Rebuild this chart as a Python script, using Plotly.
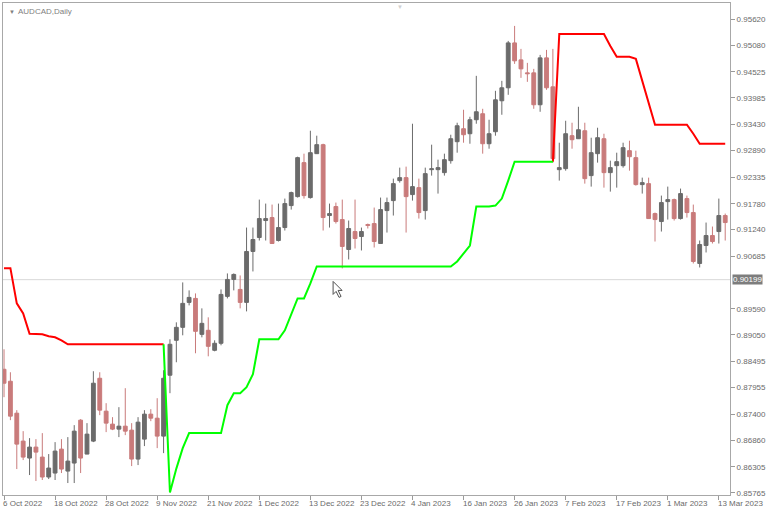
import plotly.graph_objects as go
import pandas as pd

# Trading days (weekdays) from 6 Oct 2022 to 14 Mar 2023
dates = [d.strftime("%Y-%m-%d") for d in pd.bdate_range("2022-10-06", "2023-03-14")]

open_ = [0.88334, 0.88085, 0.87420, 0.86839, 0.86486, 0.86714, 0.86506, 0.86091, 0.86174, 0.86672,
         0.86215, 0.86382, 0.87275, 0.86569, 0.86839, 0.88147, 0.87462, 0.87192, 0.87088, 0.87150,
         0.87067, 0.86465, 0.86880, 0.87400, 0.87316, 0.86943, 0.88210, 0.88937, 0.89207, 0.89726,
         0.89809, 0.89061, 0.89145, 0.88729, 0.88875, 0.89851, 0.90204, 0.89996, 0.89726, 0.90786,
         0.91077, 0.91430, 0.91492, 0.91014, 0.91284, 0.91741, 0.91928, 0.92635, 0.91908, 0.92822,
         0.93009, 0.91534, 0.91721, 0.91450, 0.90827, 0.91201, 0.91097, 0.91347, 0.91367, 0.90952,
         0.91637, 0.91845, 0.92261, 0.92323, 0.91970, 0.92115, 0.91637, 0.92489, 0.92489, 0.92427,
         0.92676, 0.93071, 0.93341, 0.93237, 0.93528, 0.93653, 0.93029, 0.93279, 0.93923, 0.94193,
         0.95127, 0.94774, 0.94504, 0.94504, 0.93840, 0.94816, 0.94213, 0.92489, 0.92510, 0.93196,
         0.93133, 0.93299, 0.92365, 0.92822, 0.93133, 0.92427, 0.92572, 0.92572, 0.92884, 0.92739,
         0.92178, 0.92198, 0.91575, 0.91409, 0.91824, 0.91866, 0.91471, 0.91887, 0.91596, 0.90536,
         0.90910, 0.91118, 0.91201, 0.91534]
high = [0.88750, 0.88272, 0.87483, 0.87046, 0.86901, 0.86880, 0.87005, 0.86569, 0.86818, 0.86880,
        0.86922, 0.87171, 0.87296, 0.87213, 0.88293, 0.88272, 0.87628, 0.87337, 0.87545, 0.87940,
        0.87213, 0.87337, 0.87483, 0.87503, 0.87732, 0.88314, 0.88958, 0.89311, 0.90142, 0.89976,
        0.89913, 0.89602, 0.89415, 0.88937, 0.89996, 0.90329, 0.90329, 0.90287, 0.91284, 0.91284,
        0.91866, 0.91783, 0.91762, 0.91783, 0.91887, 0.92032, 0.92759, 0.92822, 0.93299, 0.93196,
        0.93029, 0.91783, 0.91804, 0.91866, 0.91430, 0.91866, 0.91284, 0.91367, 0.91700, 0.91908,
        0.91908, 0.92302, 0.92531, 0.92552, 0.93445, 0.92302, 0.92531, 0.93009, 0.92697, 0.92822,
        0.93216, 0.93466, 0.93736, 0.93590, 0.94442, 0.93756, 0.93528, 0.94130, 0.94338, 0.95169,
        0.95481, 0.95003, 0.94712, 0.94587, 0.94878, 0.94982, 0.95003, 0.93050, 0.93507, 0.93466,
        0.93798, 0.93466, 0.93154, 0.93362, 0.93237, 0.92676, 0.92842, 0.93050, 0.93092, 0.92884,
        0.92323, 0.92323, 0.91596, 0.91949, 0.92136, 0.91887, 0.92095, 0.91949, 0.91762, 0.91014,
        0.91388, 0.91305, 0.91887, 0.91575]
low = [0.87753, 0.87275, 0.86257, 0.86444, 0.86132, 0.86008, 0.86029, 0.86049, 0.86029, 0.86174,
       0.85966, 0.85966, 0.86174, 0.86569, 0.86818, 0.87379, 0.87026, 0.87067, 0.86922, 0.86963,
       0.86319, 0.86340, 0.86735, 0.87254, 0.86693, 0.86589, 0.87836, 0.88480, 0.89041, 0.89664,
       0.88667, 0.88999, 0.88604, 0.88708, 0.88833, 0.89809, 0.89976, 0.89602, 0.89539, 0.90370,
       0.91014, 0.91014, 0.90952, 0.90993, 0.91222, 0.91658, 0.91908, 0.91887, 0.91887, 0.92822,
       0.91222, 0.91284, 0.91367, 0.90433, 0.90620, 0.90848, 0.90807, 0.91264, 0.90869, 0.90952,
       0.91180, 0.91534, 0.92219, 0.91180, 0.91845, 0.91471, 0.91450, 0.92365, 0.91991, 0.92365,
       0.92614, 0.92842, 0.93050, 0.93029, 0.93445, 0.92822, 0.92925, 0.93196, 0.93632, 0.94047,
       0.94691, 0.94400, 0.94317, 0.93756, 0.93694, 0.94151, 0.92635, 0.92261, 0.92468, 0.92925,
       0.93133, 0.92198, 0.92136, 0.92635, 0.92115, 0.92032, 0.92115, 0.92531, 0.92468, 0.92157,
       0.91991, 0.91471, 0.90993, 0.91201, 0.91450, 0.91430, 0.91450, 0.91492, 0.90536, 0.90453,
       0.90765, 0.90952, 0.90952, 0.91014]
close = [0.88044, 0.87358, 0.86776, 0.86506, 0.86714, 0.86610, 0.86091, 0.86278, 0.86631, 0.86257,
         0.86423, 0.87046, 0.86486, 0.86984, 0.88044, 0.87483, 0.87213, 0.87088, 0.87150, 0.87046,
         0.86465, 0.87233, 0.87400, 0.87316, 0.86943, 0.88147, 0.88854, 0.89207, 0.89706, 0.89830,
         0.89124, 0.89290, 0.88812, 0.88875, 0.89892, 0.90204, 0.90308, 0.89726, 0.90786, 0.91035,
         0.91471, 0.91471, 0.90952, 0.91284, 0.91783, 0.92011, 0.92739, 0.91949, 0.92842, 0.93009,
         0.91492, 0.91575, 0.91409, 0.90890, 0.91264, 0.91056, 0.91201, 0.91326, 0.90993, 0.91658,
         0.91804, 0.92198, 0.92323, 0.91928, 0.92136, 0.91596, 0.92406, 0.92510, 0.92531, 0.92697,
         0.93133, 0.93403, 0.93216, 0.93528, 0.93694, 0.93029, 0.93237, 0.93943, 0.94193, 0.95127,
         0.94754, 0.94587, 0.94484, 0.93840, 0.94816, 0.94193, 0.92718, 0.92531, 0.93237, 0.93112,
         0.93320, 0.92302, 0.92842, 0.93154, 0.92427, 0.92531, 0.92655, 0.92946, 0.92759, 0.92178,
         0.92219, 0.91471, 0.91450, 0.91804, 0.91866, 0.91471, 0.91991, 0.91596, 0.90578, 0.90931,
         0.91118, 0.90993, 0.91534, 0.91388]

# Trailing stop (red above price in down-trend, green below in up-trend)
stop_red = [0.90439, 0.90439, 0.89706, 0.89498, 0.89072, 0.89061, 0.89061, 0.89020, 0.88999, 0.88937,
            0.88854, 0.88854, 0.88854, 0.88854, 0.88854, 0.88854, 0.88854, 0.88854, 0.88854, 0.88854,
            0.88854, 0.88854, 0.88854, 0.88854, 0.88854, 0.88854,
            None, None, None, None, None, None, None, None, None, None,
            None, None, None, None, None, None, None, None, None, None,
            None, None, None, None, None, None, None, None, None, None,
            None, None, None, None, None, None, None, None, None, None,
            None, None, None, None, None, None, None, None, None, None,
            None, None, None, None, None, None, None, None, None, None,
            0.92655, 0.95314, 0.95314, 0.95314, 0.95314, 0.95314, 0.95314, 0.95314, 0.95314, 0.95065,
            0.94837, 0.94837, 0.94837, 0.94795, 0.94338, 0.93923, 0.93424, 0.93424, 0.93424, 0.93424,
            0.93424, 0.93424, 0.93237, 0.93029, 0.93029, 0.93029, 0.93029, 0.93029]
stop_green = [None, None, None, None, None, None, None, None, None, None,
              None, None, None, None, None, None, None, None, None, None,
              None, None, None, None, None,
              0.88854, 0.85770, 0.86267, 0.86693, 0.87005, 0.87005, 0.87005, 0.87005, 0.87005, 0.87005,
              0.87587, 0.87836, 0.87836, 0.87960, 0.88231, 0.88958, 0.88958, 0.88958, 0.88958, 0.89145,
              0.89498, 0.89809, 0.89809, 0.90121, 0.90474, 0.90474, 0.90474, 0.90474, 0.90474, 0.90474,
              0.90474, 0.90474, 0.90474, 0.90474, 0.90474, 0.90474, 0.90474, 0.90474, 0.90474, 0.90474,
              0.90474, 0.90474, 0.90474, 0.90474, 0.90474, 0.90474, 0.90578, 0.90744, 0.90910, 0.91721,
              0.91721, 0.91721, 0.91741, 0.91887, 0.92261, 0.92655, 0.92655, 0.92655, 0.92655, 0.92655,
              0.92655, 0.92655,
              None, None, None, None, None, None, None, None, None, None,
              None, None, None, None, None, None, None, None, None, None,
              None, None, None, None, None, None, None]

price_ticks = [0.95620, 0.95080, 0.94525, 0.93985, 0.93430, 0.92890, 0.92335, 0.91780, 0.91240,
               0.90685, 0.89590, 0.89050, 0.88495, 0.87955, 0.87400, 0.86860, 0.86305, 0.85765]
current_price = 0.90199
date_ticks = ["2022-10-06", "2022-10-18", "2022-10-28", "2022-11-09", "2022-11-21", "2022-12-01",
              "2022-12-13", "2022-12-23", "2023-01-04", "2023-01-16", "2023-01-26", "2023-02-07",
              "2023-02-17", "2023-03-01", "2023-03-13"]
date_tick_labels = ["6 Oct 2022", "18 Oct 2022", "28 Oct 2022", "9 Nov 2022", "21 Nov 2022",
                    "1 Dec 2022", "13 Dec 2022", "23 Dec 2022", "4 Jan 2023", "16 Jan 2023",
                    "26 Jan 2023", "7 Feb 2023", "17 Feb 2023", "1 Mar 2023", "13 Mar 2023"]

BULL = "#6b6b6b"
BEAR = "#c97b7b"
FONT = "Liberation Sans"

W, H = 768, 512
ML, MR, MT, MB = 2, 37, 2, 17

fig = go.Figure()

n = len(dates)
for is_up, col in ((True, BULL), (False, BEAR)):
    idx = [i for i in range(n) if (close[i] >= open_[i]) == is_up]
    wx, wy = [], []
    for i in idx:
        wx += [dates[i], dates[i], dates[i]]
        wy += [low[i], high[i], None]
    fig.add_trace(go.Scatter(x=wx, y=wy, mode="lines", line=dict(color=col, width=1),
                             connectgaps=False, hoverinfo="skip"))
    fig.add_trace(go.Bar(
        x=[dates[i] for i in idx],
        base=[min(open_[i], close[i]) for i in idx],
        y=[abs(close[i] - open_[i]) for i in idx],
        width=0.6, marker=dict(color=col, line=dict(color=col, width=1))))

fig.add_trace(go.Scatter(x=dates, y=stop_red, mode="lines", line=dict(color="#ff0000", width=2),
                         connectgaps=False))
fig.add_trace(go.Scatter(x=dates, y=stop_green, mode="lines", line=dict(color="#00ff00", width=2),
                         connectgaps=False))

fig.add_shape(type="line", xref="paper", x0=0, x1=1, yref="y", y0=current_price, y1=current_price,
              line=dict(color="#d8d8d8", width=1), layer="below")


# mouse pointer decoration (screen-space, as in the screenshot)
def px_to_paper(px, py):
    return (px - ML) / (W - ML - MR), (H - MB - py) / (H - MT - MB)


cursor_px = [(333, 281), (333, 294), (336, 291), (339, 297), (341, 296), (338, 290), (342, 290)]
pts = [px_to_paper(a, b) for a, b in cursor_px]
path = "M " + " L ".join(f"{a:.5f},{b:.5f}" for a, b in pts) + " Z"
fig.add_shape(type="path", xref="paper", yref="paper", path=path,
              fillcolor="#ffffff", line=dict(color="#505050", width=1))

annotations = []
for d, t in zip(date_ticks, date_tick_labels):
    annotations.append(dict(x=d, xref="x", y=0, yref="paper", yanchor="top", xanchor="left",
                            text=t, showarrow=False, xshift=-3, yshift=-2,
                            font=dict(family=FONT, size=8, color="#6a6a6a")))
annotations.append(dict(x=1, xref="paper", y=current_price, yref="y", xanchor="left", yanchor="middle",
                        text=f"{current_price:.5f}", showarrow=False, xshift=2,
                        bgcolor="#7d7d7d", borderpad=0,
                        font=dict(family=FONT, size=8, color="#ffffff")))
annotations.append(dict(x=0, xref="paper", y=1, yref="paper", xanchor="left", yanchor="top",
                        text="▼", showarrow=False, xshift=4, yshift=-4,
                        font=dict(family=FONT, size=6, color="#808080")))
annotations.append(dict(x=0, xref="paper", y=1, yref="paper", xanchor="left", yanchor="top",
                        text="AUDCAD,Daily", showarrow=False, xshift=13, yshift=-2,
                        font=dict(family=FONT, size=8, color="#808080")))
annotations.append(dict(x=(400 - ML) / (W - ML - MR), xref="paper", y=1, yref="paper",
                        xanchor="center", yanchor="top", text="▼", showarrow=False, yshift=1,
                        font=dict(family=FONT, size=6, color="#cfcfcf")))

fig.update_layout(
    width=W, height=H,
    margin=dict(l=ML, r=MR, t=MT, b=MB),
    paper_bgcolor="#ffffff", plot_bgcolor="#ffffff",
    showlegend=False, barmode="overlay",
    annotations=annotations,
    xaxis=dict(type="category", categoryorder="array", categoryarray=dates,
               range=[-0.16, 113.75], tickmode="array", tickvals=date_ticks,
               showticklabels=False, ticks="outside", ticklen=4, tickcolor="#9a9a9a",
               showgrid=False, zeroline=False, showline=True, linecolor="#a8a8a8",
               linewidth=1, mirror=True, fixedrange=True),
    yaxis=dict(side="right", range=[0.85717, 0.95958], tickmode="array", tickvals=price_ticks,
               ticktext=[f"{v:.5f}" for v in price_ticks], ticks="outside", ticklen=4,
               tickcolor="#9a9a9a", tickfont=dict(family=FONT, size=8, color="#6a6a6a"),
               showgrid=False, zeroline=False, showline=True, linecolor="#a8a8a8",
               linewidth=1, mirror=True),
)

fig.write_html("out.html", config={"displayModeBar": False},
               post_script="document.body.style.margin='0';document.body.style.overflow='hidden';")
